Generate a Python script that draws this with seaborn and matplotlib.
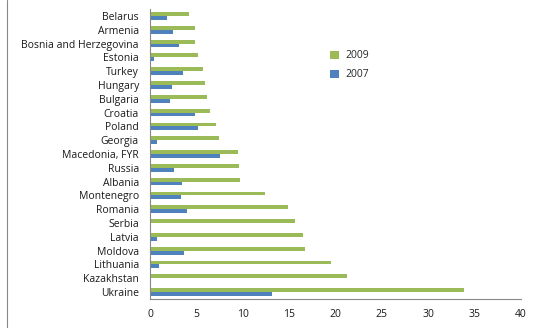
import matplotlib
matplotlib.use("Agg")
import matplotlib.pyplot as plt
import seaborn as sns
import pandas as pd
import numpy as np
from matplotlib.lines import Line2D

countries = ["Belarus", "Armenia", "Bosnia and Herzegovina", "Estonia", "Turkey",
             "Hungary", "Bulgaria", "Croatia", "Poland", "Georgia", "Macedonia, FYR",
             "Russia", "Albania", "Montenegro", "Romania", "Serbia", "Latvia",
             "Moldova", "Lithuania", "Kazakhstan", "Ukraine"]
values_2009 = [4.2, 4.8, 4.8, 5.2, 5.7, 5.9, 6.1, 6.5, 7.1, 7.4, 9.5,
               9.6, 9.7, 12.4, 14.9, 15.6, 16.5, 16.7, 19.5, 21.2, 33.9]
values_2007 = [1.8, 2.5, 3.1, 0.4, 3.6, 2.4, 2.2, 4.8, 5.2, 0.8, 7.6,
               2.6, 3.4, 3.3, 4.0, 0.0, 0.8, 3.7, 1.0, 0.0, 13.2]
years = ["2009", "2007"]
xticks = [0, 5, 10, 15, 20, 25, 30, 35, 40]

df = pd.DataFrame({
    "country": countries * 2,
    "value": values_2009 + values_2007,
    "year": [years[0]] * len(countries) + [years[1]] * len(countries),
})

sns.set_style("white")
plt.rcParams["font.family"] = ["Open Sans", "DejaVu Sans"]

fig = plt.figure(figsize=(5.33, 3.28), dpi=100)
ax = fig.add_axes([150 / 533, 1 - 299 / 328, 371 / 533, 290 / 328])

sns.barplot(data=df, y="country", x="value", hue="year", hue_order=years,
            order=countries, orient="h", palette=["#9BBB59", "#4F81BD"],
            width=0.56, saturation=1, ax=ax, errorbar=None, legend=True,
            linewidth=0)

ax.set_xlim(0, 40)
ax.set_ylim(len(countries) - 0.5, -0.5)
ax.set_xticks(xticks)
ax.set_xticklabels([str(t) for t in xticks], fontsize=7.5, color="#1a1a1a")
ax.set_yticks(range(len(countries)))
ax.set_yticklabels(countries, fontsize=7.5, color="#1a1a1a")
ax.set_yticks(np.arange(-0.5, len(countries) + 0.5, 1), minor=True)
ax.tick_params(axis="y", which="major", length=0, pad=8)
ax.tick_params(axis="y", which="minor", length=4, color="#888888", direction="out")
ax.tick_params(axis="x", which="major", length=4, color="#888888", direction="out", pad=3)
ax.set_xlabel("")
ax.set_ylabel("")
for s in ["top", "right"]:
    ax.spines[s].set_visible(False)
for s in ["left", "bottom"]:
    ax.spines[s].set_color("#888888")
    ax.spines[s].set_linewidth(0.8)

leg = ax.legend(loc="upper left", bbox_to_anchor=(321 / 533, 1 - 41 / 328),
                bbox_transform=fig.transFigure, frameon=False, fontsize=7.5,
                handlelength=0.8, handleheight=0.8, handletextpad=0.6,
                labelspacing=0.75)

fig.add_artist(Line2D([7 / 533, 7 / 533], [0, 1], transform=fig.transFigure,
                      color="#888888", linewidth=0.8))

fig.savefig("out.png", dpi=100)
